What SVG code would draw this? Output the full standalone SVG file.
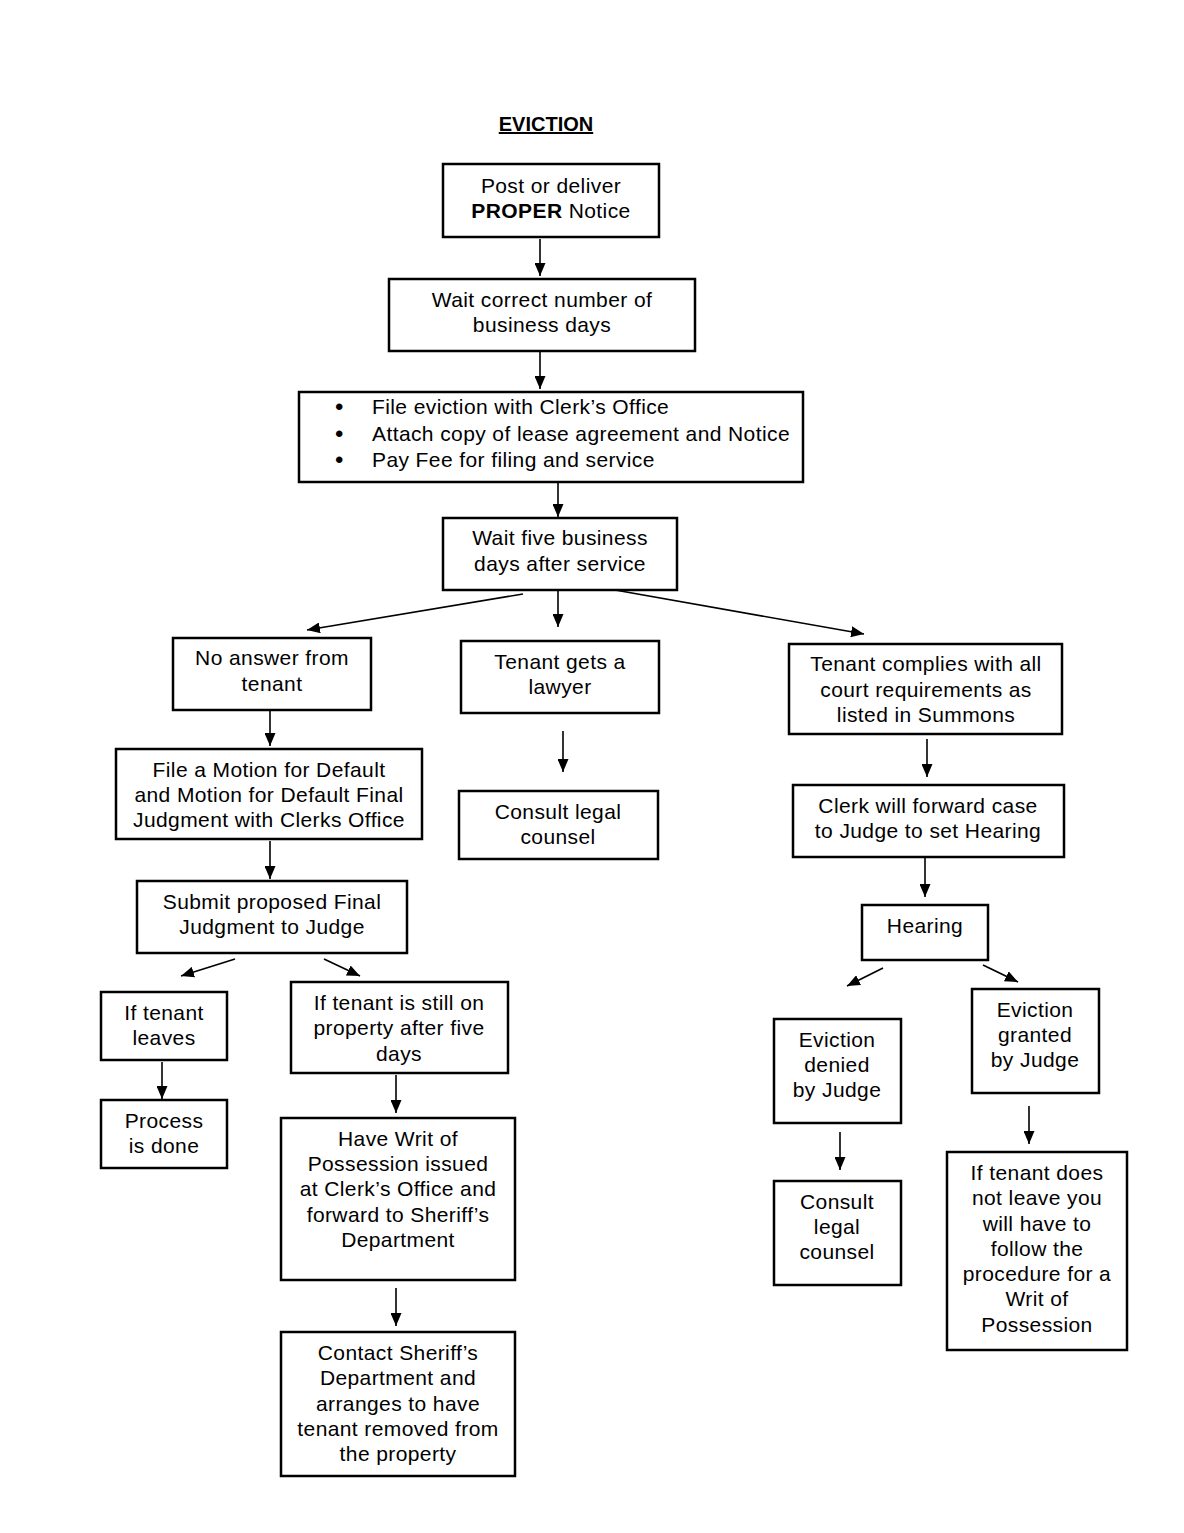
<svg xmlns="http://www.w3.org/2000/svg" width="1184" height="1533" viewBox="0 0 1184 1533">
<style>
.box{fill:#fff;stroke:#000;stroke-width:2.5}
text{font-family:"Liberation Sans",Arial,sans-serif;font-size:21px;letter-spacing:0.4px;fill:#000}
.c{text-anchor:middle}
.b{font-size:24px}
.con line{stroke:#000;stroke-width:1.6;marker-end:url(#ah)}
</style>
<defs>
<marker id="ah" viewBox="0 0 13 11" refX="13" refY="5.5" markerWidth="13" markerHeight="11" markerUnits="userSpaceOnUse" orient="auto">
<path d="M0,0 L13,5.5 L0,11 z" fill="#000"/>
</marker>
</defs>
<rect width="1184" height="1533" fill="#fff"/>
<g id="title"><text x="546" y="131" class="c" style="font-weight:bold;font-size:20px;letter-spacing:0;text-decoration:underline">EVICTION</text></g>

<g id="n1"><rect class="box" x="443" y="164" width="216" height="73"/><text class="c" x="551" y="193">Post or deliver</text><text class="c" x="551" y="218"><tspan font-weight="bold">PROPER</tspan> Notice</text></g>
<g id="n2"><rect class="box" x="389" y="279" width="306" height="72"/><text class="c" x="542" y="307">Wait correct number of</text><text class="c" x="542" y="332">business days</text></g>
<g id="n3"><rect class="box" x="299" y="392" width="504" height="90"/>
<text class="b" x="335" y="415">•</text><text x="372" y="414">File eviction with Clerk’s Office</text>
<text class="b" x="335" y="442">•</text><text x="372" y="441">Attach copy of lease agreement and Notice</text>
<text class="b" x="335" y="468">•</text><text x="372" y="467">Pay Fee for filing and service</text></g>
<g id="n4"><rect class="box" x="443" y="518" width="234" height="72"/><text class="c" x="560" y="545">Wait five business</text><text class="c" x="560" y="571">days after service</text></g>
<g id="n5"><rect class="box" x="173" y="638" width="198" height="72"/><text class="c" x="272" y="665">No answer from</text><text class="c" x="272" y="691">tenant</text></g>
<g id="n6"><rect class="box" x="461" y="641" width="198" height="72"/><text class="c" x="560" y="669">Tenant gets a</text><text class="c" x="560" y="694">lawyer</text></g>
<g id="n7"><rect class="box" x="789" y="644" width="273" height="90"/><text class="c" x="926" y="671">Tenant complies with all</text><text class="c" x="926" y="697">court requirements as</text><text class="c" x="926" y="722">listed in Summons</text></g>
<g id="n8"><rect class="box" x="116" y="749" width="306" height="90"/><text class="c" x="269" y="777">File a Motion for Default</text><text class="c" x="269" y="802">and Motion for Default Final</text><text class="c" x="269" y="827">Judgment with Clerks Office</text></g>
<g id="n9"><rect class="box" x="459" y="791" width="199" height="68"/><text class="c" x="558" y="819">Consult legal</text><text class="c" x="558" y="844">counsel</text></g>
<g id="n10"><rect class="box" x="793" y="785" width="271" height="72"/><text class="c" x="928" y="813">Clerk will forward case</text><text class="c" x="928" y="838">to Judge to set Hearing</text></g>
<g id="n11"><rect class="box" x="137" y="881" width="270" height="72"/><text class="c" x="272" y="909">Submit proposed Final</text><text class="c" x="272" y="934">Judgment to Judge</text></g>
<g id="n12"><rect class="box" x="862" y="905" width="126" height="55"/><text class="c" x="925" y="933">Hearing</text></g>
<g id="n13"><rect class="box" x="101" y="992" width="126" height="68"/><text class="c" x="164" y="1020">If tenant</text><text class="c" x="164" y="1045">leaves</text></g>
<g id="n14"><rect class="box" x="291" y="982" width="217" height="91"/><text class="c" x="399" y="1010">If tenant is still on</text><text class="c" x="399" y="1035">property after five</text><text class="c" x="399" y="1061">days</text></g>
<g id="n15"><rect class="box" x="101" y="1100" width="126" height="68"/><text class="c" x="164" y="1128">Process</text><text class="c" x="164" y="1153">is done</text></g>
<g id="n16"><rect class="box" x="281" y="1118" width="234" height="162"/><text class="c" x="398" y="1146">Have Writ of</text><text class="c" x="398" y="1171">Possession issued</text><text class="c" x="398" y="1196">at Clerk’s Office and</text><text class="c" x="398" y="1222">forward to Sheriff’s</text><text class="c" x="398" y="1247">Department</text></g>
<g id="n17"><rect class="box" x="281" y="1332" width="234" height="144"/><text class="c" x="398" y="1360">Contact Sheriff’s</text><text class="c" x="398" y="1385">Department and</text><text class="c" x="398" y="1411">arranges to have</text><text class="c" x="398" y="1436">tenant removed from</text><text class="c" x="398" y="1461">the property</text></g>
<g id="n18"><rect class="box" x="774" y="1019" width="127" height="104"/><text class="c" x="837" y="1047">Eviction</text><text class="c" x="837" y="1072">denied</text><text class="c" x="837" y="1097">by Judge</text></g>
<g id="n19"><rect class="box" x="972" y="989" width="127" height="104"/><text class="c" x="1035" y="1017">Eviction</text><text class="c" x="1035" y="1042">granted</text><text class="c" x="1035" y="1067">by Judge</text></g>
<g id="n20"><rect class="box" x="774" y="1181" width="127" height="104"/><text class="c" x="837" y="1209">Consult</text><text class="c" x="837" y="1234">legal</text><text class="c" x="837" y="1259">counsel</text></g>
<g id="n21"><rect class="box" x="947" y="1152" width="180" height="198"/><text class="c" x="1037" y="1180">If tenant does</text><text class="c" x="1037" y="1205">not leave you</text><text class="c" x="1037" y="1231">will have to</text><text class="c" x="1037" y="1256">follow the</text><text class="c" x="1037" y="1281">procedure for a</text><text class="c" x="1037" y="1306">Writ of</text><text class="c" x="1037" y="1332">Possession</text></g>

<g id="connectors" class="con">
<line x1="540" y1="239" x2="540" y2="276"/>
<line x1="540" y1="352" x2="540" y2="389"/>
<line x1="558" y1="483" x2="558" y2="517"/>
<line x1="523" y1="594" x2="307" y2="630"/>
<line x1="558" y1="590" x2="558" y2="627"/>
<line x1="615" y1="590" x2="864" y2="634"/>
<line x1="270" y1="711" x2="270" y2="746"/>
<line x1="563" y1="731" x2="563" y2="772"/>
<line x1="927" y1="739" x2="927" y2="777"/>
<line x1="270" y1="841" x2="270" y2="879"/>
<line x1="925" y1="858" x2="925" y2="897"/>
<line x1="235" y1="959" x2="181" y2="976"/>
<line x1="324" y1="959" x2="360" y2="976"/>
<line x1="162" y1="1062" x2="162" y2="1099"/>
<line x1="396" y1="1075" x2="396" y2="1113"/>
<line x1="396" y1="1288" x2="396" y2="1326"/>
<line x1="883" y1="968" x2="847" y2="986"/>
<line x1="983" y1="965" x2="1018" y2="982"/>
<line x1="840" y1="1132" x2="840" y2="1170"/>
<line x1="1029" y1="1106" x2="1029" y2="1144"/>
</g>
</svg>
